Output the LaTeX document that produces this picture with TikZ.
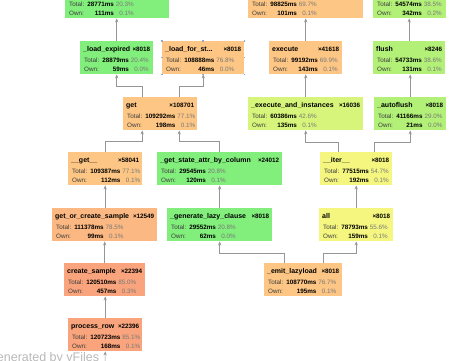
\documentclass[tikz,border=0pt]{standalone}
\usepackage{fontspec}
\setmainfont{Liberation Sans}
\usetikzlibrary{arrows.meta}
\definecolor{cgGreen}{RGB}{130,238,124}
\definecolor{cgLime}{RGB}{178,240,120}
\definecolor{cgYgreen}{RGB}{214,245,122}
\definecolor{cgYellow}{RGB}{244,246,128}
\definecolor{cgOrange}{RGB}{253,198,132}
\definecolor{cgOrange2}{RGB}{251,184,130}
\definecolor{cgSalmon}{RGB}{249,164,124}
\definecolor{cgEdge}{RGB}{150,150,150}
\definecolor{cgLabel}{RGB}{60,60,60}
\definecolor{cgPct}{RGB}{120,120,120}
\definecolor{cgHandle}{RGB}{150,170,200}
\definecolor{cgMark}{RGB}{185,185,185}
\tikzset{
  cgbox/.style={anchor=north west, inner sep=0pt, minimum height=33pt, draw=none},
  cgtitle/.style={anchor=base west, inner sep=0pt, font=\fontsize{7}{8}\selectfont\bfseries},
  cgcount/.style={anchor=base east, inner sep=0pt, font=\fontsize{6.3}{8}\selectfont\bfseries},
  cgstats/.style={anchor=base west, inner sep=0pt, font=\fontsize{6.3}{9}\selectfont},
  cgedge/.style={draw=cgEdge, line width=0.6pt, -{Stealth[length=4pt,width=3.2pt]}},
}
\newcommand\cgrect[5]{% name, x1, top, x2, colour
  \node[cgbox, fill=#5, minimum width=#4pt-#2pt] (#1) at (#2,#3) {};}
\newcommand\cgtitle[3]{% name, title, count
  \path (#1.north west) ++(3,10.5) node[cgtitle] {#2};
  \path (#1.north east) ++(-3,10.5) node[cgcount] {#3};}
\newcommand\cgstat[5]{% name, total, pct, own, pct
  \path (#1.north west) ++(4,21.3) node[cgstats] {%
    \begin{tabular}[t]{@{}l@{\hspace{3pt}}r@{\hspace{2pt}}r@{}}
      \color{cgLabel}Total: & \textbf{#2} & \color{cgPct}#3\\
      \color{cgLabel}Own: & \textbf{#4} & \color{cgPct}#5
    \end{tabular}};}
\begin{document}
\begin{tikzpicture}[x=1pt,y=-1pt]
\useasboundingbox (0,0) rectangle (474,361);
\fill[white] (0,0) rectangle (474,361);
\clip (0,0) rectangle (474,361);
% top row (cut off)
\cgrect{ta}{65}{-15}{169}{cgGreen}
\cgstat{ta}{28771ms}{20.3\%}{111ms}{0.1\%}
\cgrect{tb}{248}{-15}{363}{cgOrange}
\cgstat{tb}{98825ms}{69.7\%}{101ms}{0.1\%}
\cgrect{tc}{373}{-15}{446}{cgLime}
\cgstat{tc}{54574ms}{38.5\%}{342ms}{0.2\%}
% row 2
\cgrect{loadexp}{80}{41}{153}{cgGreen}
\cgtitle{loadexp}{\_load\_expired}{×8018}
\cgstat{loadexp}{28879ms}{20.4\%}{59ms}{0.0\%}
\cgrect{loadfor}{162}{41}{244}{cgOrange}
\cgtitle{loadfor}{\_load\_for\_st...}{×8018}
\cgstat{loadfor}{108888ms}{76.8\%}{46ms}{0.0\%}
\cgrect{execute}{269}{41}{342}{cgOrange}
\cgtitle{execute}{execute}{×41618}
\cgstat{execute}{99192ms}{69.9\%}{143ms}{0.1\%}
\cgrect{flush}{373}{41}{445}{cgLime}
\cgtitle{flush}{flush}{×8246}
\cgstat{flush}{54733ms}{38.6\%}{131ms}{0.1\%}
% row 3
\cgrect{get}{123}{97}{197}{cgOrange}
\cgtitle{get}{get}{×108701}
\cgstat{get}{109292ms}{77.1\%}{198ms}{0.1\%}
\cgrect{execinst}{248}{97}{363}{cgYgreen}
\cgtitle{execinst}{\_execute\_and\_instances}{×16036}
\cgstat{execinst}{60386ms}{42.6\%}{135ms}{0.1\%}
\cgrect{autoflush}{374}{97}{446}{cgLime}
\cgtitle{autoflush}{\_autoflush}{×8018}
\cgstat{autoflush}{41166ms}{29.0\%}{21ms}{0.0\%}
% row 4
\cgrect{dget}{68}{152}{142}{cgOrange}
\cgtitle{dget}{\_\_get\_\_}{×58041}
\cgstat{dget}{109387ms}{77.1\%}{112ms}{0.1\%}
\cgrect{gsabc}{157}{152}{282}{cgGreen}
\cgtitle{gsabc}{\_get\_state\_attr\_by\_column}{×24012}
\cgstat{gsabc}{29545ms}{20.8\%}{120ms}{0.1\%}
\cgrect{iter}{320}{152}{392}{cgYellow}
\cgtitle{iter}{\_\_iter\_\_}{×8018}
\cgstat{iter}{77515ms}{54.7\%}{192ms}{0.1\%}
% row 5
\cgrect{gocs}{52}{208}{157}{cgOrange2}
\cgtitle{gocs}{get\_or\_create\_sample}{×12549}
\cgstat{gocs}{111378ms}{78.5\%}{99ms}{0.1\%}
\cgrect{glc}{167}{208}{272}{cgGreen}
\cgtitle{glc}{\_generate\_lazy\_clause}{×8018}
\cgstat{glc}{29552ms}{20.8\%}{62ms}{0.0\%}
\cgrect{all}{319}{208}{393}{cgYellow}
\cgtitle{all}{all}{×8018}
\cgstat{all}{78793ms}{55.6\%}{159ms}{0.1\%}
% row 6
\cgrect{cs}{64}{263}{145}{cgSalmon}
\cgtitle{cs}{create\_sample}{×22394}
\cgstat{cs}{120510ms}{85.0\%}{457ms}{0.3\%}
\cgrect{emit}{264}{263}{342}{cgOrange}
\cgtitle{emit}{\_emit\_lazyload}{×8018}
\cgstat{emit}{108770ms}{76.7\%}{195ms}{0.1\%}
% row 7
\cgrect{prow}{68}{318}{142}{cgSalmon}
\cgtitle{prow}{process\_row}{×22396}
\cgstat{prow}{120723ms}{85.1\%}{168ms}{0.1\%}
% selection handles
\foreach \a in {north west,north,north east,west,east,south west,south,south east}
  \fill[cgHandle] (loadfor.\a) ++(-0.8,-0.8) rectangle ++(1.6,1.6);
% edges
\draw[cgedge] (loadexp.north) -- (loadexp.north |- ta.south);
\draw[cgedge] (execute.north) -- (execute.north |- tb.south);
\draw[cgedge] (flush.north) -- (flush.north |- tc.south);
\draw[cgedge] ([xshift=-18pt]get.north) -- ++(0,-11) -| (loadexp.south);
\draw[cgedge] ([xshift=19pt]get.north) -- ++(0,-11) -| (loadfor.south);
\draw[cgedge] (execinst.north) -- (execinst.north |- execute.south);
\draw[cgedge] (autoflush.north) -- (autoflush.north |- flush.south);
\draw[cgedge] (dget.north) -- ++(0,-11) -| ([xshift=-18pt]get.south);
\draw[cgedge] (gsabc.north) -- ++(0,-11) -| ([xshift=19pt]get.south);
\draw[cgedge] ([xshift=-18pt]iter.north) -- ++(0,-10) -| (execinst.south);
\draw[cgedge] ([xshift=18pt]iter.north) -- ++(0,-10) -| (autoflush.south);
\draw[cgedge] (dget.south |- gocs.north) -- (dget.south);
\draw[cgedge] (glc.north) -- (glc.north |- gsabc.south);
\draw[cgedge] (all.north) -- (all.north |- iter.south);
\draw[cgedge] (cs.north) -- (cs.north |- gocs.south);
\draw[cgedge] ([xshift=-19pt]emit.north) -- ++(0,-10) -| (glc.south);
\draw[cgedge] ([xshift=20pt]emit.north) -- ++(0,-10) -| (all.south);
\draw[cgedge] (prow.north) -- (prow.north |- cs.south);
\coordinate (below) at (105,370);
\draw[cgedge] (below) -- (prow.south);
% watermark
\node[anchor=base west, inner sep=0pt, text=cgMark, font=\fontsize{12.5}{14}\selectfont] (mark) at (-13,361) {Generated by yFiles};
\end{tikzpicture}
\end{document}
